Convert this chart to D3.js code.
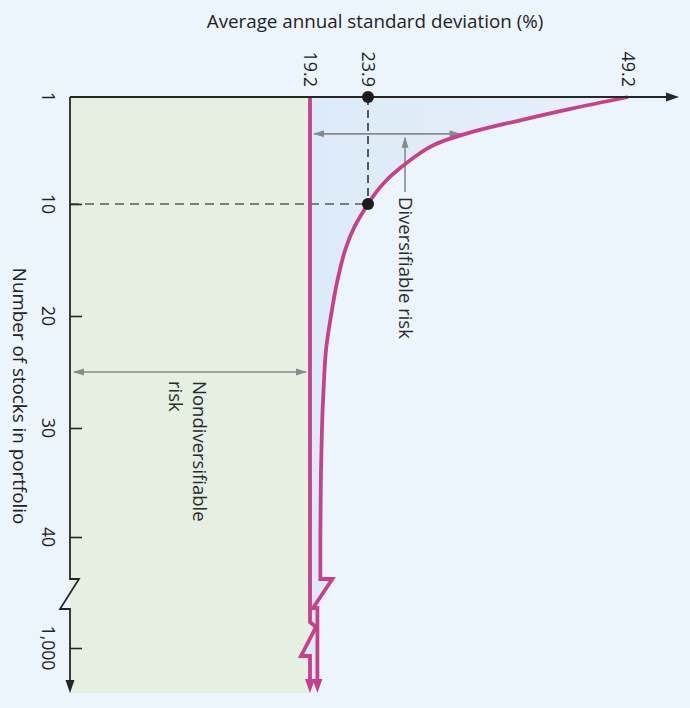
<!DOCTYPE html>
<html><head><meta charset="utf-8">
<script src="https://cdn.jsdelivr.net/npm/d3@7"></script>
<style>
html,body{margin:0;padding:0;background:#EDF5FC;}
svg{display:block;font-family:"Open Sans",Lato,sans-serif;}
</style>
</head><body>
<svg id="c" width="690" height="708"></svg>
<script>
// ---- data ----
const stocks = [1, 2, 3, 4, 5, 6, 7, 8, 9, 10, 12, 14, 17, 20, 23, 27, 30, 34, 40];
const stdDev = [49.2, 43.6, 38.5, 33.8, 30.4, 28.5, 27.0, 25.7, 24.7, 23.9, 22.82, 22.08, 21.39, 20.9, 20.5, 20.28, 20.17, 20.09, 20.04];
const stocksLarge = 1000;
const stdDevLarge = 19.8;
const marketRisk = 19.2;
const highlight = {n: 10, sd: 23.9};
const xTickValues = [19.2, 23.9, 49.2];
const xTickLabels = ["19.2", "23.9", "49.2"];
const yTickValues = [1, 10, 20, 30, 40, 1000];
const yTickLabels = ["1", "10", "20", "30", "40", "1,000"];
const xTitle = "Average annual standard deviation (%)";
const yTitle = "Number of stocks in portfolio";
const divLabel = "Diversifiable risk";
const nondivLabel = ["Nondiversifiable", "risk"];

// ---- scales ----
const x = d3.scaleLinear().domain([0, 19.2, 23.9, 49.2]).range([70, 310, 368, 628]);
const y = d3.scaleLinear().domain([1, 10, 20, 30, 40, 1000]).range([97, 204, 316, 428, 537, 648]);

const pink = "#C7418A", axisCol = "#262626", grayA = "#8a8a8a";
const svg = d3.select("#c");
const defs = svg.append("defs");
const grad = defs.append("linearGradient").attr("id", "bg").attr("x1", 0).attr("x2", 1).attr("y1", 0).attr("y2", 0);
grad.append("stop").attr("offset", "0%").attr("stop-color", "#DCEBF8");
grad.append("stop").attr("offset", "100%").attr("stop-color", "#E6F0FA");

const x0 = x(0), xM = x(marketRisk);
const yTop = y(1);
const yEnd = 693;                  // arrow tips
const breakTop = y(40) + 42, breakBot = y(1000) - 40;
const xLast = x(stdDev[stdDev.length - 1]);
const xLarge = x(stdDevLarge);

const pts = stocks.map((n, i) => [x(stdDev[i]), y(n)]);
const curveType = d3.curveCatmullRom.alpha(0.5);

// green nondiversifiable area
svg.append("rect").attr("x", x0).attr("y", yTop).attr("width", xM - x0).attr("height", yEnd - yTop)
  .attr("fill", "#E5EFE2");

// blue diversifiable area
const areaPath = d3.line().curve(curveType)(pts) + `L${xM},${y(40)}L${xM},${yTop}Z`;
svg.append("path").attr("d", areaPath).attr("fill", "url(#bg)");
svg.append("path").attr("fill", "#DCEBF8")
  .attr("d", d3.line()([[xM, y(40)], [xLast, y(40)], [xLast, breakTop], [xLast + 12, breakTop],
    [xM + 3, breakBot], [xLarge, breakBot], [xLarge, yEnd - 12], [xM, yEnd - 12]]));
svg.append("path").attr("fill", "#DCEBF8")
  .attr("d", d3.line()([[xM + 6, breakBot + 19], [xM - 9, breakBot + 48], [xM, breakBot + 48]]));

// dashed guides
svg.append("line").attr("x1", x(highlight.sd)).attr("x2", x(highlight.sd)).attr("y1", yTop).attr("y2", y(highlight.n))
  .attr("stroke", "#333").attr("stroke-width", 1.6).attr("stroke-dasharray", "8,5");
svg.append("line").attr("x1", x0).attr("x2", x(highlight.sd)).attr("y1", y(highlight.n)).attr("y2", y(highlight.n))
  .attr("stroke", "#5a5a5a").attr("stroke-width", 1.4).attr("stroke-dasharray", "9,6");

// gray annotation arrows
function arrowHead(g, tx, ty, dir, col, len, hw) {
  let p;
  if (dir === "l") p = [[tx, ty], [tx + len, ty - hw], [tx + len, ty + hw]];
  if (dir === "r") p = [[tx, ty], [tx - len, ty - hw], [tx - len, ty + hw]];
  if (dir === "u") p = [[tx, ty], [tx - hw, ty + len], [tx + hw, ty + len]];
  if (dir === "d") p = [[tx, ty], [tx - hw, ty - len], [tx + hw, ty - len]];
  g.append("path").attr("d", d3.line()(p) + "Z").attr("fill", col);
}
const ann = svg.append("g");
const yDiv = y(4.1), xDivEnd = x(32.9);
ann.append("line").attr("x1", xM + 4).attr("x2", xDivEnd).attr("y1", yDiv).attr("y2", yDiv)
  .attr("stroke", grayA).attr("stroke-width", 1.6);
arrowHead(ann, xM + 3, yDiv, "l", grayA, 11, 3.5);
arrowHead(ann, xDivEnd, yDiv, "r", grayA, 11, 3.5);
const xPtr = x(27.5);
ann.append("line").attr("x1", xPtr).attr("x2", xPtr).attr("y1", yDiv + 4).attr("y2", 192)
  .attr("stroke", grayA).attr("stroke-width", 1.6);
arrowHead(ann, xPtr, yDiv + 3, "u", grayA, 11, 3.5);
svg.append("text").attr("transform", `translate(${xPtr},197) rotate(90)`).attr("dy", "0.35em")
  .attr("font-size", 18.5).attr("fill", "#2a2a2a").text(divLabel);

const yNd = y(25);
ann.append("line").attr("x1", x0 + 4).attr("x2", xM - 4).attr("y1", yNd).attr("y2", yNd)
  .attr("stroke", grayA).attr("stroke-width", 1.6);
arrowHead(ann, x0 + 3, yNd, "l", grayA, 11, 3.5);
arrowHead(ann, xM - 3, yNd, "r", grayA, 11, 3.5);
const ndText = svg.append("text").attr("transform", `translate(199,${yNd + 9}) rotate(90)`)
  .attr("font-size", 18.5).attr("fill", "#2a2a2a");
nondivLabel.forEach((t, i) => ndText.append("tspan").attr("x", 0).attr("dy", i === 0 ? "0.35em" : "1.25em").text(t));

// pink lines
const curvePath = d3.line().curve(curveType)(pts);
const tail = d3.line()([[xLast, y(40)], [xLast, breakTop], [xLast + 12, breakTop], [xM + 3, breakBot],
  [xLarge, breakBot], [xLarge, yEnd - 11]]);
svg.append("path").attr("d", curvePath + "L" + tail.slice(1)).attr("fill", "none")
  .attr("stroke", pink).attr("stroke-width", 3.8).attr("stroke-linejoin", "miter");
svg.append("path").attr("fill", "none").attr("stroke", pink).attr("stroke-width", 3.8)
  .attr("d", d3.line()([[xM, yTop], [xM, breakBot + 14], [xM + 6, breakBot + 19], [xM - 9, breakBot + 48],
    [xM, breakBot + 48], [xM, yEnd - 11]]));
arrowHead(svg, xM, yEnd, "d", pink, 14, 5);
arrowHead(svg, xLarge, yEnd, "d", pink, 14, 5);

// axes
const xAxis = d3.axisTop(x).tickValues(xTickValues).tickSize(0).tickFormat((d, i) => xTickLabels[i]);
const gx = svg.append("g").attr("transform", `translate(0,${yTop})`).call(xAxis);
gx.select(".domain").remove();
gx.selectAll("text").attr("x", 0).attr("y", 0).attr("dy", "0.35em")
  .attr("transform", "translate(0,-10) rotate(90)").attr("text-anchor", "end")
  .attr("font-size", 18).attr("font-family", "'Open Sans',Lato,sans-serif").attr("fill", "#222");
svg.append("line").attr("x1", x0).attr("x2", 668).attr("y1", yTop).attr("y2", yTop)
  .attr("stroke", axisCol).attr("stroke-width", 1.8);
arrowHead(svg, 679, yTop, "r", axisCol, 13, 4.5);

const yAxis = d3.axisRight(y).tickValues(yTickValues.filter(v => v !== 1)).tickSize(12).tickFormat("");
const gy = svg.append("g").attr("transform", `translate(${x0},0)`).call(yAxis);
gy.select(".domain").remove();
gy.selectAll("line").attr("stroke", axisCol).attr("stroke-width", 1.6);
svg.append("path").attr("fill", "none").attr("stroke", axisCol).attr("stroke-width", 1.8)
  .attr("d", d3.line()([[x0, yTop], [x0, breakTop], [x0 + 9, breakTop], [x0 - 10, breakBot + 1], [x0, breakBot + 1], [x0, yEnd - 11]]));
arrowHead(svg, x0, yEnd, "d", axisCol, 13, 4.5);

svg.append("g").selectAll("text").data(yTickValues).join("text")
  .attr("transform", d => `translate(48,${y(d)}) rotate(90)`)
  .attr("text-anchor", "middle").attr("dy", "0.35em").attr("font-size", 17.5).attr("fill", "#222")
  .text((d, i) => yTickLabels[i]);

// highlight dots
svg.append("circle").attr("cx", x(highlight.sd)).attr("cy", yTop).attr("r", 6).attr("fill", "#1b1b1b");
svg.append("circle").attr("cx", x(highlight.sd)).attr("cy", y(highlight.n)).attr("r", 6).attr("fill", "#1b1b1b");

// titles
svg.append("text").attr("x", 375).attr("y", 28).attr("text-anchor", "middle").attr("font-size", 18.8)
  .attr("fill", "#222").text(xTitle);
svg.append("text").attr("transform", "translate(20,396) rotate(90)").attr("text-anchor", "middle")
  .attr("dy", "0.35em").attr("font-size", 18.8).attr("fill", "#222").text(yTitle);
</script>
</body></html>
